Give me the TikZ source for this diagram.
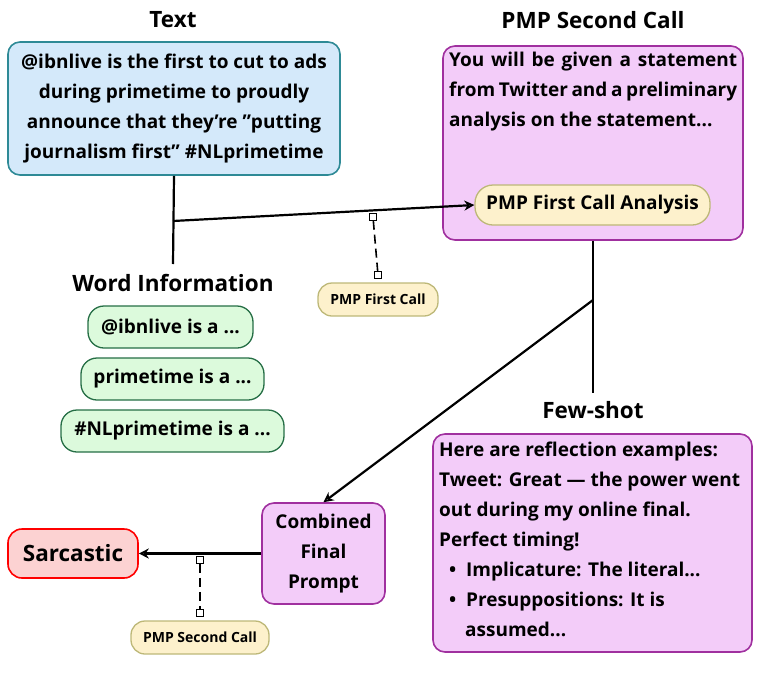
\documentclass[tikz,border=0pt]{standalone}
\usepackage{fontspec}
\setmainfont{Open Sans}
\usetikzlibrary{arrows.meta}
\definecolor{bluef}{HTML}{D4E9FA}\definecolor{bluel}{HTML}{2E8A96}
\definecolor{purf}{HTML}{F3CCF9}\definecolor{purl}{HTML}{A0309F}
\definecolor{yelf}{HTML}{FDF1CC}\definecolor{yell}{HTML}{BDB878}
\definecolor{grf}{HTML}{DCFADC}\definecolor{grl}{HTML}{256E45}
\definecolor{redf}{HTML}{FCD2D2}
\begin{document}
\hyphenpenalty=10000
\begin{tikzpicture}[x=1pt,y=-1pt,font=\bfseries\fontsize{19}{22}\selectfont,
 box/.style={draw,line width=1.6pt,rounded corners=12pt,inner sep=0pt},
 pill/.style={draw,line width=1.3pt,rounded corners=13pt,inner sep=0pt},
 lab/.style={font=\bfseries\fontsize{22.5}{26}\selectfont},
 body/.style={font=\bfseries\fontsize{19}{30}\selectfont},
 con/.style={line width=2.2pt},
 sq/.style={draw,fill=white,line width=1pt,minimum size=6.5pt,inner sep=0pt},
 smallf/.style={font=\bfseries\fontsize{14}{16}\selectfont}]
\useasboundingbox (0,0) rectangle (761,694);
% Text
\node[lab] (tl) at (173,20) {Text};
\node[box,fill=bluef,draw=bluel,minimum width=332pt,minimum height=133pt] (text) at (174,108.5) {};
\node[align=center,body] at (text.center) {@ibnlive is the first to cut to ads\\during primetime to proudly\\announce that they're "putting\\journalism first" \#NLprimetime};
% PMP second call
\node[lab] (pl) at (593,20) {PMP Second Call};
\node[box,fill=purf,draw=purl,minimum width=300pt,minimum height=194pt] (psc) at (593,143) {};
\node[anchor=north west,text width=288pt,align=justify,body,inner sep=0pt] at (449,52) {\hyphenpenalty=10000 You will be given a statement from Twitter and a preliminary analysis on the statement...};
\node[pill,fill=yelf,draw=yell,minimum width=235pt,minimum height=40pt,rounded corners=18pt] (fca) at (592.5,205) {PMP First Call Analysis};
% Word info
\node[lab] (wl) at (173,283) {Word Information};
\node[pill,fill=grf,draw=grl,minimum width=165pt,minimum height=42pt,rounded corners=16pt] (w1) at (170.5,327) {@ibnlive is a ...};
\node[pill,fill=grf,draw=grl,minimum width=183pt,minimum height=42pt,rounded corners=16pt] (w2) at (172.5,379) {primetime is a ...};
\node[pill,fill=grf,draw=grl,minimum width=223pt,minimum height=42pt,rounded corners=16pt] (w3) at (172.5,431) {\#NLprimetime is a ...};
% connector 1
\coordinate (j1) at (173,221);
\coordinate (j1b) at (173,264);
\draw[con] (text.south) -- (j1b);
\draw[con,-{Stealth[length=10pt,width=10pt,open,fill=none]}] (j1) -- (fca.west);
\node[pill,fill=yelf,draw=yell,minimum width=120pt,minimum height=33pt,rounded corners=14pt,smallf] (fc) at (378,299.5) {PMP First Call};
\node[sq] (s1) at (373,217) {};
\node[sq] (s2) at (378,275) {};
\draw[line width=1.6pt,dash pattern=on 9pt off 5pt] (s1) -- (s2);
% few-shot
\coordinate (j2) at (593,300);
\coordinate (j2b) at (593,393);
\draw[con] (psc.south -| j2) -- (j2b);
\node[lab] (fl) at (593,410) {Few-shot};
\node[box,fill=purf,draw=purl,minimum width=319pt,minimum height=218pt] (fs) at (592.5,543) {};
\node[anchor=north west,align=left,body,inner sep=0pt] (fst) at (439,442) {Here are reflection examples:\\Tweet: Great — the power went\\out during my online final.\\Perfect timing!\\\ \ \textbullet\ \ Implicature: The literal...\\\ \ \textbullet\ \ Presuppositions: It is\\\hspace*{26pt}assumed...};
% combined
\node[box,fill=purf,draw=purl,minimum width=123pt,minimum height=101pt,align=center,body] (cfp) at (323.5,553.5) {Combined\\Final\\Prompt};
\draw[con,-{Stealth[length=10pt,width=10pt,open,fill=none]}] (j2) -- (cfp.north);
\node[box,fill=redf,draw=red,minimum width=130pt,minimum height=49pt,rounded corners=14pt,font=\bfseries\fontsize{22.5}{26}\selectfont] (sar) at (73,553.5) {Sarcastic};
\draw[con,-{Stealth[length=10pt,width=10pt,open,fill=none]}] (cfp.west) -- (sar.east);
\node[pill,fill=yelf,draw=yell,minimum width=138pt,minimum height=33pt,rounded corners=14pt,smallf] (sc) at (200,637.5) {PMP Second Call};
\node[sq] (s3) at (200,560) {};
\node[sq] (s4) at (200,613) {};
\draw[line width=1.6pt,dash pattern=on 9pt off 5pt] (s3) -- (s4);
\end{tikzpicture}
\end{document}
